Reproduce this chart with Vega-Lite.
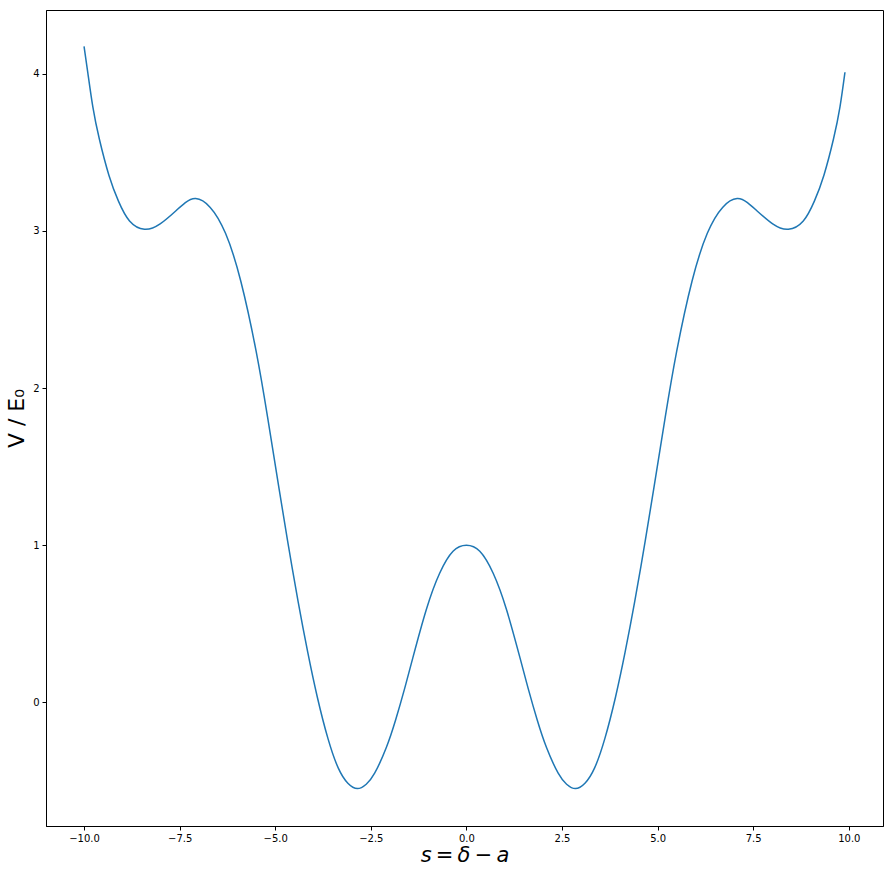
{
  "$schema": "https://vega.github.io/schema/vega-lite/v6.json",
  "width": 837,
  "height": 816,
  "autosize": {"type": "none"},
  "padding": {"left": 46, "top": 10, "right": 10, "bottom": 47},
  "background": "white",
  "config": {
    "font": "DejaVu Sans",
    "view": {"stroke": "black", "strokeWidth": 1},
    "axis": {
      "domainColor": "black",
      "domainWidth": 1,
      "tickColor": "black",
      "tickWidth": 1,
      "tickSize": 4,
      "labelPadding": 3,
      "labelFont": "DejaVu Sans",
      "labelFontSize": 10,
      "labelColor": "black",
      "grid": false,
      "titleColor": "black",
      "titleFont": "DejaVu Sans",
      "titleFontWeight": "normal",
      "titleFontSize": 21
    }
  },
  "data": {
    "values": [
      {"s": -10.0, "v": 4.174},
      {"s": -9.9, "v": 4.005},
      {"s": -9.77, "v": 3.79},
      {"s": -9.6, "v": 3.585},
      {"s": -9.35, "v": 3.355},
      {"s": -9.1, "v": 3.19},
      {"s": -8.81, "v": 3.064},
      {"s": -8.42, "v": 3.011},
      {"s": -8.01, "v": 3.045},
      {"s": -7.59, "v": 3.13},
      {"s": -7.35, "v": 3.18},
      {"s": -7.08, "v": 3.206},
      {"s": -6.7, "v": 3.15},
      {"s": -6.3, "v": 2.985},
      {"s": -5.9, "v": 2.68},
      {"s": -5.5, "v": 2.235},
      {"s": -5.2, "v": 1.815},
      {"s": -4.9, "v": 1.36},
      {"s": -4.65, "v": 0.99},
      {"s": -4.4, "v": 0.64},
      {"s": -4.15, "v": 0.32},
      {"s": -3.9, "v": 0.035},
      {"s": -3.62, "v": -0.23},
      {"s": -3.35, "v": -0.418},
      {"s": -3.1, "v": -0.514},
      {"s": -2.85, "v": -0.548},
      {"s": -2.62, "v": -0.52},
      {"s": -2.4, "v": -0.45},
      {"s": -2.1, "v": -0.29},
      {"s": -1.85, "v": -0.11},
      {"s": -1.62, "v": 0.085},
      {"s": -1.4, "v": 0.285},
      {"s": -1.05, "v": 0.59},
      {"s": -0.7, "v": 0.822},
      {"s": -0.35, "v": 0.962},
      {"s": 0.0, "v": 1.0},
      {"s": 0.35, "v": 0.962},
      {"s": 0.7, "v": 0.822},
      {"s": 1.05, "v": 0.59},
      {"s": 1.4, "v": 0.285},
      {"s": 1.62, "v": 0.085},
      {"s": 1.85, "v": -0.11},
      {"s": 2.1, "v": -0.29},
      {"s": 2.4, "v": -0.45},
      {"s": 2.62, "v": -0.52},
      {"s": 2.85, "v": -0.548},
      {"s": 3.1, "v": -0.514},
      {"s": 3.35, "v": -0.418},
      {"s": 3.62, "v": -0.23},
      {"s": 3.9, "v": 0.035},
      {"s": 4.15, "v": 0.32},
      {"s": 4.4, "v": 0.64},
      {"s": 4.65, "v": 0.99},
      {"s": 4.9, "v": 1.36},
      {"s": 5.2, "v": 1.815},
      {"s": 5.5, "v": 2.235},
      {"s": 5.9, "v": 2.68},
      {"s": 6.3, "v": 2.985},
      {"s": 6.7, "v": 3.15},
      {"s": 7.08, "v": 3.206},
      {"s": 7.35, "v": 3.18},
      {"s": 7.59, "v": 3.13},
      {"s": 8.01, "v": 3.045},
      {"s": 8.42, "v": 3.011},
      {"s": 8.81, "v": 3.064},
      {"s": 9.1, "v": 3.19},
      {"s": 9.35, "v": 3.355},
      {"s": 9.6, "v": 3.585},
      {"s": 9.77, "v": 3.79},
      {"s": 9.9, "v": 4.01}
    ]
  },
  "mark": {"type": "line", "color": "#1f77b4", "strokeWidth": 1.5, "interpolate": "natural"},
  "encoding": {
    "x": {
      "field": "s",
      "type": "quantitative",
      "scale": {"domain": [-10.995, 10.895], "nice": false, "zero": false},
      "axis": {
        "values": [-10, -7.5, -5, -2.5, 0, 2.5, 5, 7.5, 10],
        "format": ".1f",
        "title": "s\u2009=\u2009δ\u2009−\u2009a",
        "titleFontStyle": "italic",
        "titlePadding": 1
      }
    },
    "y": {
      "field": "v",
      "type": "quantitative",
      "scale": {"domain": [-0.786, 4.406], "nice": false, "zero": false},
      "axis": {
        "values": [0, 1, 2, 3, 4],
        "format": "d",
        "title": "V / E₀",
        "titleFontSize": 22,
        "titlePadding": 4
      }
    }
  }
}
